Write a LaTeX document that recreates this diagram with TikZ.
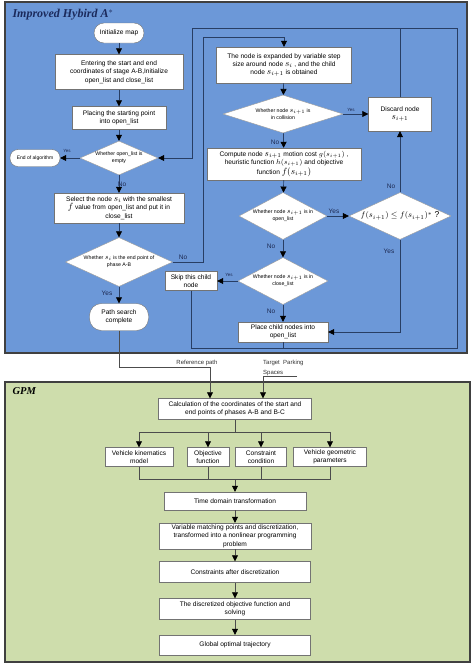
\documentclass[tikz,border=0pt]{standalone}
\usepackage{amsmath}
\usepackage{amssymb}
\usepackage{fontspec}
\setmainfont{Liberation Sans}
\newfontfamily\headfont{Liberation Serif}
\usetikzlibrary{shapes.geometric,arrows.meta}
\definecolor{panelblue}{RGB}{108,152,216}
\definecolor{panelgreen}{RGB}{206,221,172}
\definecolor{linecol}{RGB}{40,62,100}
\definecolor{labcol}{RGB}{28,40,80}
\definecolor{headcol}{RGB}{27,42,92}
% node symbols a bit larger than the text round them
\newcommand{\svar}[1]{{\fontsize{8.6}{8}\selectfont$#1$}}
\newcommand{\dvar}[1]{{\fontsize{7}{7}\selectfont$#1$}}

\begin{document}
\begin{tikzpicture}[x=1pt,y=-1pt,
    box/.style={draw=black!55, fill=white, align=center, inner sep=1pt, font=\fontsize{6.6}{8.4}\selectfont},
    term/.style={box, rounded corners=8pt},
    decide/.style={diamond, draw=black!40, fill=white, align=center, aspect=2.2, inner sep=-5pt, font=\fontsize{5.2}{7.2}\selectfont},
    arr/.style={draw=linecol, line width=0.7pt, -{Triangle[length=6pt,width=6pt,color=black]}},
    wire/.style={draw=linecol, line width=0.7pt},
    arrg/.style={draw=black!70, line width=0.7pt, -{Triangle[length=6pt,width=6pt,color=black]}},
    wireg/.style={draw=black!70, line width=0.7pt},
    lab/.style={text=labcol, font=\fontsize{6.5}{7}\selectfont, inner sep=0pt},
    tinylab/.style={lab, font=\fontsize{4.5}{5}\selectfont}]

    \useasboundingbox (0,0) rectangle (474,665);

    % panels
    \draw[fill=panelblue, draw=black!75, line width=1.4pt] (5,2) rectangle (467,353);
    \draw[fill=panelgreen, draw=black!75, line width=1.4pt] (5,382) rectangle (470,662);
    \node[anchor=west, text=headcol, font=\headfont\bfseries\itshape\fontsize{12}{14}\selectfont] (hybird) at (9,15) {Improved Hybird A$^{*}$};
    \node[anchor=west, font=\headfont\bfseries\itshape\fontsize{10.5}{12}\selectfont] (gpm) at (9,391) {GPM};

    % left column
    \node[term, minimum width=50, minimum height=20, rounded corners=10pt] (init) at (119,33) {Initialize map};
    \node[box, minimum width=128, minimum height=35] (enter) at (119,72) {Entering the start and end\\coordinates of stage A-B,Initialize\\open\_list and close\_list};
    \node[box, minimum width=94, minimum height=23] (place) at (119,118) {Placing the starting point\\into open\_list};
    \node[decide, minimum width=78, minimum height=34] (empty) at (119,158) {Whether open\_list is\\empty};
    \node[term, minimum width=50, minimum height=17, font=\fontsize{5}{6}\selectfont] (end) at (35,158) {End of algorithm};
    \node[box, minimum width=130, minimum height=30] (select) at (119,208) {Select the node \svar{s_i} with the smallest\\\svar{f} value from open\_list and put it in\\close\_list};
    \node[decide, minimum width=107, minimum height=49] (goal) at (119,262) {Whether \dvar{s_i} is the end point of\\phase A-B};
    \node[term, minimum width=59, minimum height=27, rounded corners=12pt] (done) at (119,317) {Path search\\complete};

    % right column
    \node[box, minimum width=135, minimum height=36] (expand) at (284,65) {The node is expanded by variable step\\size around node \svar{s_i} , and the child\\node \svar{s_{i+1}} is obtained};
    \node[decide, minimum width=120, minimum height=38] (collide) at (283,114) {Whether node \dvar{s_{i+1}} is\\in collision};
    \node[box, minimum width=63, minimum height=34] (discard) at (400,114) {Discard node\\\svar{s_{i+1}}};
    \node[box, minimum width=154, minimum height=32] (cost) at (284,164) {Compute node \svar{s_{i+1}} motion cost $g(s_{i+1})$ ,\\heuristic function $h(s_{i+1})$ and objective\\function \svar{f(s_{i+1})}};
    \node[decide, minimum width=88, minimum height=47] (inopen) at (283,216) {Whether node \dvar{s_{i+1}} is in\\open\_list};
    \node[decide, minimum width=102, minimum height=47, font=\fontsize{8.5}{10}\selectfont] (better) at (400,216) {$f(s_{i+1})\le f(s_{i+1})^*$ ?};
    \node[decide, minimum width=90, minimum height=47] (inclose) at (283,281) {Whether node \dvar{s_{i+1}} is in\\close\_list};
    \node[box, minimum width=52, minimum height=19] (skip) at (191,281) {Skip this child\\node};
    \node[box, minimum width=90, minimum height=20] (insert) at (283,332) {Place child nodes into\\open\_list};

    \coordinate (outerTL) at (192,28);
    \coordinate (outerTR) at (457,28);
    \coordinate (outerBR) at (457,348);
    \coordinate (innerT) at (203,37);

    \draw[arr] (init) -- (enter);
    \draw[arr] (enter) -- (place);
    \draw[arr] (place) -- (empty);
    \draw[arr] (empty) -- (end);
    \draw[arr] (empty) -- (select);
    \draw[arr] (select) -- (goal);
    \draw[arr] (goal) -- (done);
    \draw[arr] (goal.east) -| (innerT) -| (expand.north);
    \draw[arr] (expand) -- (collide);
    \draw[arr] (collide) -- (discard);
    \draw[arr] (collide) -- (cost);
    \draw[arr] (cost) -- (inopen);
    \draw[arr] (inopen) -- (better);
    \draw[arr] (inopen) -- (inclose);
    \draw[arr] (inclose) -- (skip);
    \draw[arr] (inclose) -- (insert);
    \draw[arr] (better) -- (discard);
    \draw[arr] (better.south) |- (insert.east);
    \draw[wire] (insert.south) |- (outerBR) -- (outerTR) -- (outerTL);
    \draw[wire] (skip.south) |- (outerBR);
    \draw[wire] (discard.north) -- (discard.north |- outerTR);
    \draw[arr] (outerTL) |- (empty.east);

    \node[tinylab] (yes1) at (67,151) {Yes};
    \node[lab] (no1) at (122,184) {No};
    \node[lab] (no2) at (183,257) {No};
    \node[lab] (yes2) at (107,293) {Yes};
    \node[tinylab] (yes3) at (351,110) {Yes};
    \node[lab] (no3) at (275,142) {No};
    \node[lab] (yes4) at (334,211) {Yes};
    \node[lab] (no4) at (271,246) {No};
    \node[tinylab] (yes5) at (229,275) {Yes};
    \node[lab] (no5) at (271,311) {No};
    \node[lab] (no6) at (391,186) {No};
    \node[lab] (yes6) at (389,251) {Yes};

    % between the panels
    \node[box, minimum width=153, minimum height=21] (calc) at (235,409) {Calculation of the coordinates of the start and\\end points of phases A-B and B-C};
    \coordinate (refc) at (210,367);
    \draw[arrg] (done.south) |- (refc) -- (refc |- calc.north);
    \node[font=\fontsize{6}{7}\selectfont, text=black!80, inner sep=0pt] (refpath) at (197,363) {Reference path};
    \node[anchor=north west, align=left, font=\fontsize{6}{9.5}\selectfont, text=black!80, inner sep=0pt] (target) at (263,360) {Target\ \ Parking\\Spaces};
    \coordinate (tpa) at (297,376);
    \coordinate (tpb) at (263,376);
    \draw[wireg] (tpa) -- (tpb);
    \draw[arrg] (tpb) -- (tpb |- calc.north);

    % GPM
    \node[box, minimum width=68, minimum height=19] (kin) at (139,457) {Vehicle kinematics\\model};
    \node[box, minimum width=42, minimum height=19] (obj) at (208,457) {Objective\\function};
    \node[box, minimum width=51, minimum height=19] (con) at (261,457) {Constraint\\condition};
    \node[box, minimum width=73, minimum height=19] (geo) at (330,457) {Vehicle geometric\\parameters};
    \coordinate (busA) at (235,432);
    \coordinate (busB) at (235,479);
    \draw[wireg] (calc.south) -- (busA);
    \foreach \n in {kin,obj,con,geo} {
        \draw[arrg] (busA) -| (\n.north);
        \draw[wireg] (\n.south) |- (busB);
    }
    \node[box, minimum width=142, minimum height=18] (time) at (235,501) {Time domain transformation};
    \node[box, minimum width=152, minimum height=26] (match) at (235,536) {Variable matching points and discretization,\\transformed into a nonlinear programming\\problem};
    \node[box, minimum width=151, minimum height=21] (after) at (235,572) {Constraints after discretization};
    \node[box, minimum width=151, minimum height=21] (solve) at (235,609) {The discretized objective function and\\solving};
    \node[box, minimum width=151, minimum height=20] (traj) at (235,645) {Global optimal trajectory};
    \draw[arrg] (busB) -- (time);
    \draw[arrg] (time) -- (match);
    \draw[arrg] (match) -- (after);
    \draw[arrg] (after) -- (solve);
    \draw[arrg] (solve) -- (traj);
\end{tikzpicture}
\end{document}
